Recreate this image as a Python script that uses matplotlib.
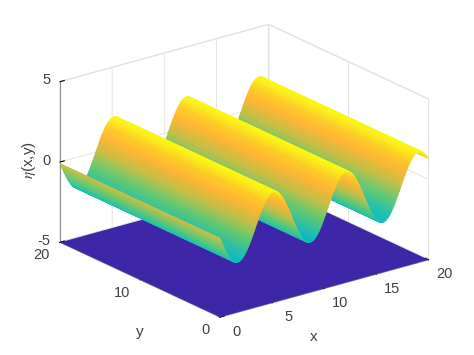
import numpy as np
import matplotlib
matplotlib.use("Agg")
import matplotlib.pyplot as plt
from matplotlib.colors import LinearSegmentedColormap, Normalize
from mpl_toolkits.mplot3d import proj3d

plt.rcParams['font.family'] = ['Liberation Sans', 'DejaVu Sans']
plt.rcParams['mathtext.fontset'] = 'stix'

# profile of the wave across x (same for all y)
x_vals = [20 * i / 158 for i in range(159)]
y_vals = [0, 20]
eta_vals = [
    -0.09, -0.31, -0.52, -0.72, -0.92, -1.10, -1.27, -1.42, -1.56, -1.68,
    -1.77, -1.84, -1.88, -1.90, -1.89, -1.86, -1.81, -1.73, -1.63, -1.51,
    -1.37, -1.21, -1.04, -0.85, -0.65, -0.44, -0.23, -0.01, 0.21, 0.42,
    0.63, 0.83, 1.02, 1.20, 1.36, 1.50, 1.62, 1.72, 1.80, 1.86,
    1.89, 1.90, 1.88, 1.84, 1.77, 1.68, 1.57, 1.44, 1.29, 1.12,
    0.94, 0.74, 0.54, 0.33, 0.12, -0.10, -0.32, -0.53, -0.73, -0.93,
    -1.11, -1.28, -1.43, -1.57, -1.68, -1.77, -1.84, -1.88, -1.90, -1.89,
    -1.86, -1.81, -1.73, -1.63, -1.51, -1.37, -1.21, -1.03, -0.84, -0.64,
    -0.43, -0.22, 0.00, 0.22, 0.43, 0.64, 0.84, 1.03, 1.20, 1.36,
    1.50, 1.63, 1.73, 1.81, 1.86, 1.89, 1.90, 1.88, 1.84, 1.77,
    1.68, 1.57, 1.44, 1.29, 1.12, 0.94, 0.74, 0.53, 0.32, 0.11,
    -0.11, -0.33, -0.54, -0.74, -0.93, -1.12, -1.29, -1.44, -1.57, -1.68,
    -1.77, -1.84, -1.88, -1.90, -1.89, -1.86, -1.81, -1.73, -1.63, -1.50,
    -1.36, -1.20, -1.03, -0.84, -0.64, -0.43, -0.22, 0.00, 0.22, 0.43,
    0.64, 0.84, 1.03, 1.21, 1.37, 1.51, 1.63, 1.73, 1.81, 1.86,
    1.89, 1.90, 1.88, 1.84, 1.77, 1.68, 1.56, 1.43, 1.28,
]
plane_x = [0, 20]
plane_y = [0, 20]
plane_z = -5
x_ticks = [0, 5, 10, 15, 20]
y_ticks = [0, 10, 20]
z_ticks = [-5, 0, 5]

# parula, near enough, stops moved to fit the reference
parula = LinearSegmentedColormap.from_list("parula", [
    (0.0, (0.2422, 0.1504, 0.6603)), (0.125, (0.2810, 0.3228, 0.9579)),
    (0.25, (0.1540, 0.5902, 0.9218)), (0.375, (0.0, 0.68, 0.80)),
    (0.45, (0.05, 0.74, 0.76)), (0.6, (0.38, 0.79, 0.45)),
    (0.72, (0.76, 0.75, 0.28)), (0.84, (1.0, 0.71, 0.2)),
    (0.92, (0.99, 0.80, 0.15)), (1.0, (0.98, 0.97, 0.08))], N=256)
norm = Normalize(-5, 1.9)

fig = plt.figure(figsize=(4.74, 3.55), dpi=100)
ax = fig.add_axes([62 / 474, 2 / 355, 355 / 474, 1.0], projection='3d',
                  proj_type='ortho', computed_zorder=False)
ax.view_init(elev=21, azim=-127.5)
ax.set_box_aspect((1, 1, 0.655), zoom=1.12)
ax.patch.set_alpha(0)

X, Y = np.meshgrid(x_vals, y_vals)
Z = np.tile(eta_vals, (len(y_vals), 1))
PX, PY = np.meshgrid(plane_x, plane_y)
PZ = np.full(PX.shape, plane_z, dtype=float)

plane = ax.plot_surface(PX, PY, PZ, color=parula(0.0), shade=False, linewidth=0, zorder=1)
# strips overlap a little through their edges so no seams show
surf = ax.plot_surface(X, Y, Z, facecolors=parula(norm(Z)), shade=False,
                       rcount=Z.shape[0], ccount=Z.shape[1], linewidth=0.5, zorder=2)
# right corner sticks out of the square axes box
plane.set_clip_on(False)
surf.set_clip_on(False)

ax.set_xlim(0, 20)
ax.set_ylim(0, 20)
ax.set_zlim(-5, 5)
ax.set_xticks(x_ticks)
ax.set_yticks(y_ticks)
ax.set_zticks(z_ticks)
ax.set_xticklabels([])
ax.set_yticklabels([])
ax.set_zticklabels([])

for axis in (ax.xaxis, ax.yaxis, ax.zaxis):
    axis.set_pane_color((1, 1, 1, 1))
    axis.pane.set_edgecolor('#e4e4e4')
    axis.line.set_color('#8c8c8c')
    axis._axinfo['grid'].update(color='#e4e4e4', linewidth=0.7)
    axis._axinfo['tick'].update(inward_factor=0.0, outward_factor=0.25, color='#606060')

# MATLAB-like placement of the labels: offset in pixels from the axis point
def label3d(x, y, z, s, dx, dy, ha='center', rotation=0, size=10.5):
    px, py, _ = proj3d.proj_transform(x, y, z, ax.get_proj())
    ax.annotate(s, xy=(px, py), xycoords='data', xytext=(dx, -dy),
                textcoords='offset pixels', ha=ha, va='center', rotation=rotation,
                fontsize=size, color='#404040', annotation_clip=False)

for t in x_ticks:
    label3d(t, 0, -5, str(t), 16, 14.5)
for t in y_ticks:
    label3d(0, t, -5, str(t), -10, 13, ha='right')
for t in z_ticks:
    label3d(0, 20, t, str(t), -9.5, -1.5, ha='right')
label3d(10, 0, -5, 'x', -10.5, 48.5, size=11)
label3d(0, 10, -5, 'y', 0, 52, size=11)
label3d(0, 20, 0, r'$\eta$(x,y)', -31.5, -1.5, rotation=90, size=11)

plt.savefig('out.png', dpi=100)
